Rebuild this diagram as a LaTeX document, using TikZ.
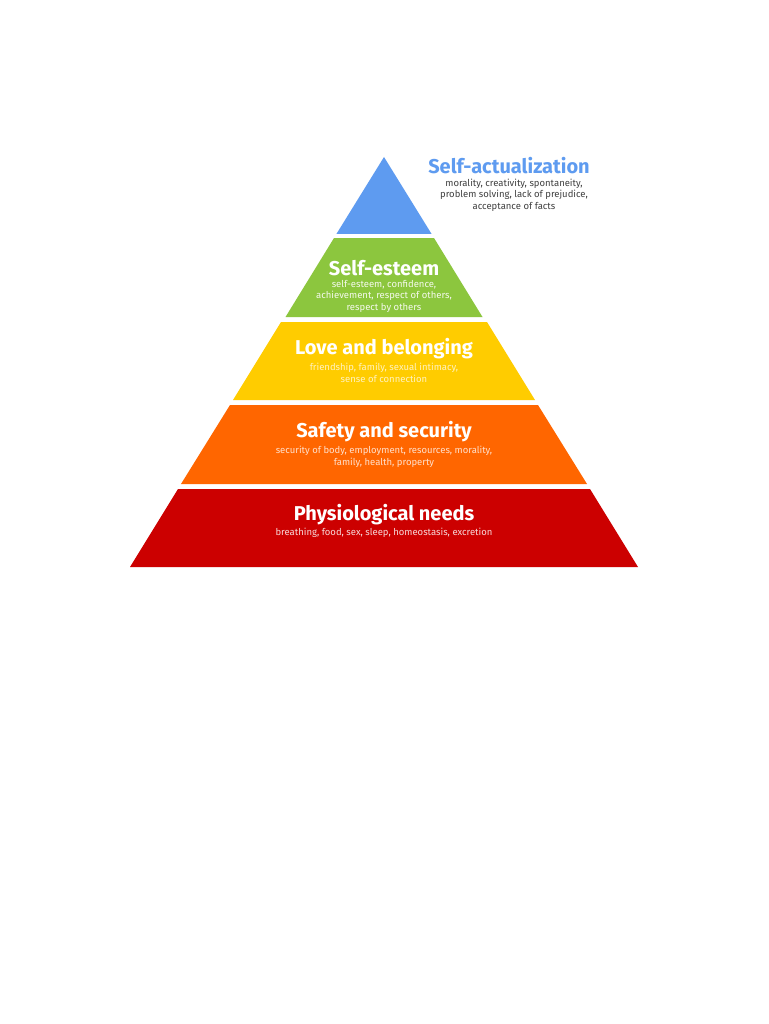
\documentclass[tikz,border=0pt]{standalone}
\usepackage{fontspec}
\setmainfont{Fira Sans}
\begin{document}
\begin{tikzpicture}[x=1pt,y=-1pt,
  ttl/.style={font=\fontsize{20}{22}\selectfont\bfseries, text=white, inner sep=0},
  sub/.style={font=\fontsize{9.5}{11.5}\selectfont, align=center, inner sep=0}]
\definecolor{cblue}{HTML}{5E9BF0}
\definecolor{cgreen}{HTML}{8CC63E}
\definecolor{cyellow}{HTML}{FFCC00}
\definecolor{corange}{HTML}{FF6600}
\definecolor{cred}{HTML}{CC0000}
\useasboundingbox (0,0) rectangle (768,1024);
\fill[white] (0,0) rectangle (768,1024);
% bands: x(y) left = 384 - 0.6134*(y-157)
\fill[cblue] (384,157) -- (431.6,234) -- (336.4,234) -- cycle;
\fill[cgreen] (334,238) -- (434,238) -- (482.5,317) -- (285.5,317) -- cycle;
\fill[cyellow] (281,322) -- (487,322) -- (535,400) -- (233,400) -- cycle;
\fill[corange] (230,405) -- (538,405) -- (587,484) -- (181,484) -- cycle;
\fill[cred] (178,489) -- (590,489) -- (638,567) -- (130,567) -- cycle;
\node[ttl, text=cblue] (t1) at (509,166) {Self-actualization};
\node[sub, text=black!75] (s1) at (514,195) {morality, creativity, spontaneity,\\problem solving, lack of prejudice,\\acceptance of facts};
\node[ttl] (t2) at (384,268) {Self-esteem};
\node[sub, text=white!90!cgreen] (s2) at (384,296) {self-esteem, confidence,\\achievement, respect of others,\\respect by others};
\node[ttl] (t3) at (384,349) {Love and belonging};
\node[sub, text=white!75!cyellow] (s3) at (384,373) {friendship, family, sexual intimacy,\\sense of connection};
\node[ttl] (t4) at (384,432) {Safety and security};
\node[sub, text=white!80!corange] (s4) at (384,457) {security of body, employment, resources, morality,\\family, health, property};
\node[ttl] (t5) at (384,515) {Physiological needs};
\node[sub, text=white!85!cred] (s5) at (384,533) {breathing, food, sex, sleep, homeostasis, excretion};
\end{tikzpicture}
\end{document}
